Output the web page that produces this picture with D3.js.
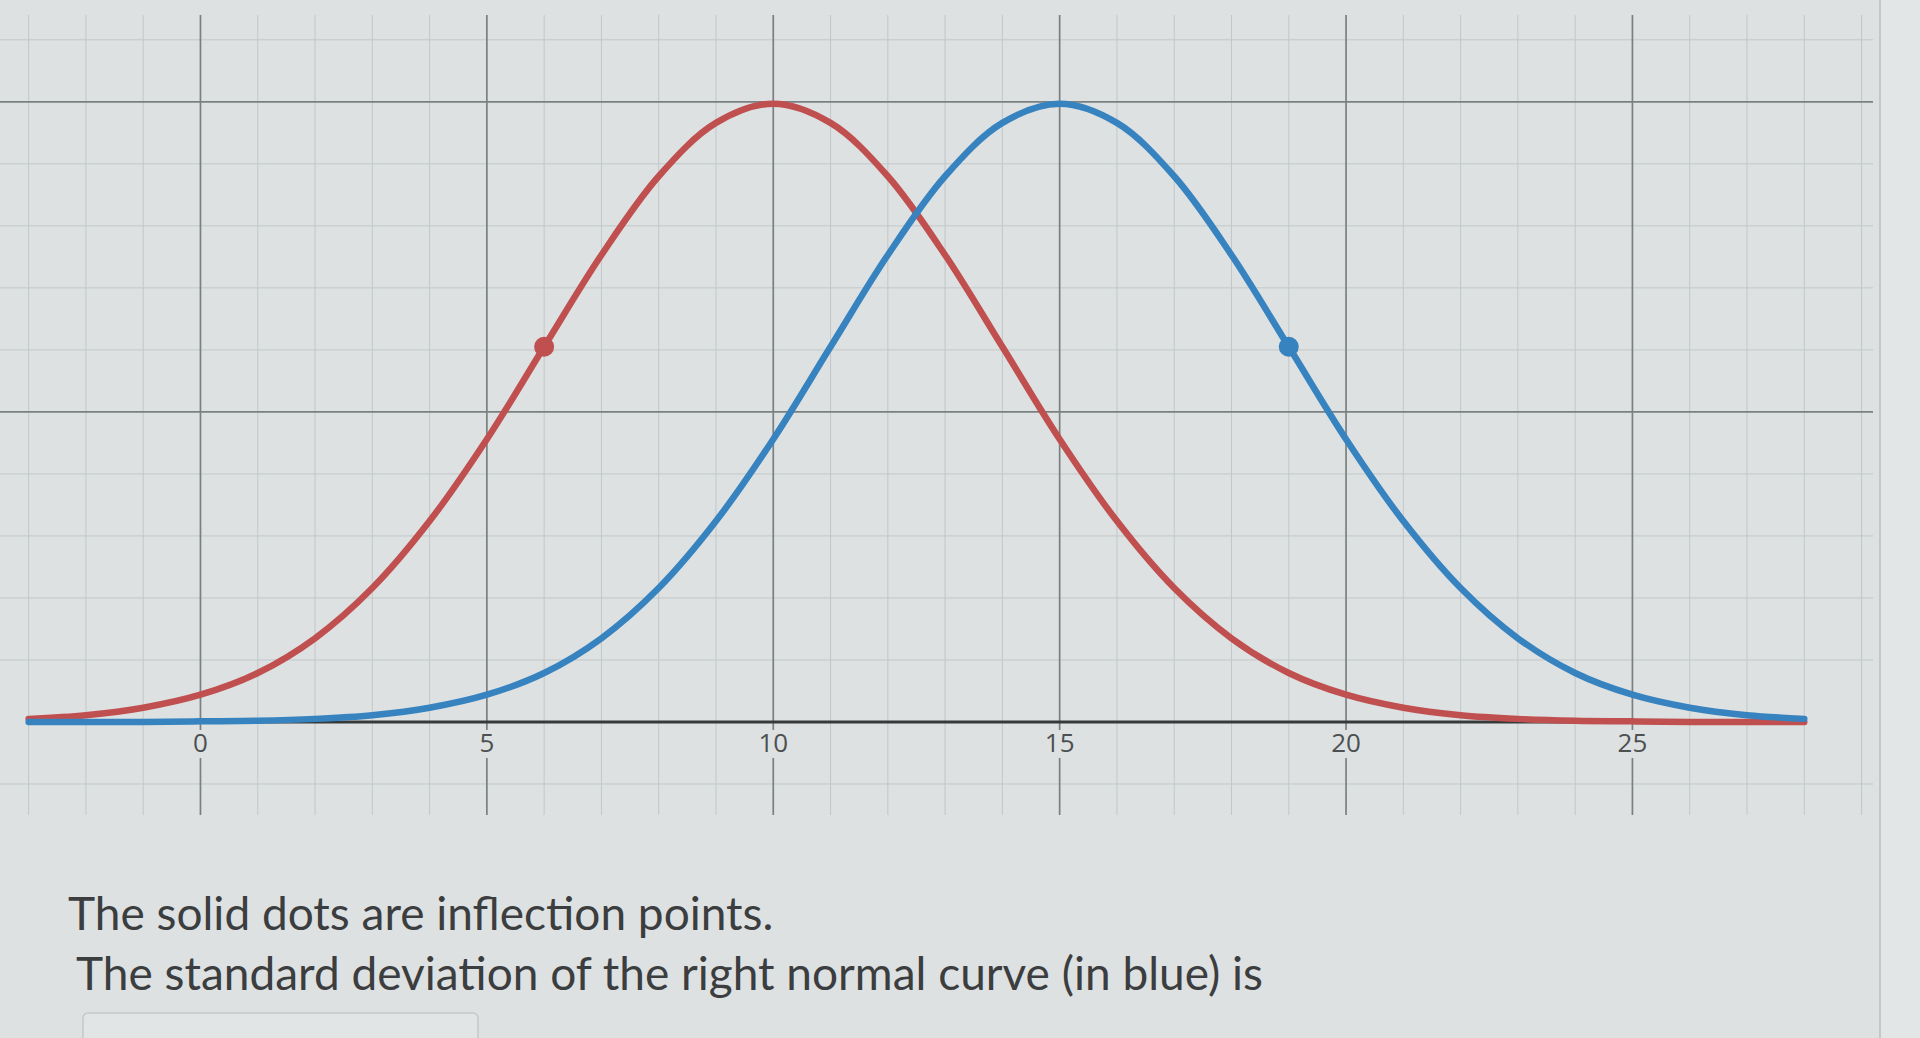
<!DOCTYPE html>
<html>
<head>
  <meta charset="utf-8">
  <title>Two normal curves</title>
  <script src="https://d3js.org/d3.v7.min.js"></script>
  <style>
    html, body { margin: 0; padding: 0; background: #dde1e2; overflow: hidden; }
    .minor { stroke: #c2c7c8; stroke-width: 1; }
    .major { stroke: #7a7f80; stroke-width: 1.7; }
    .axis-line { stroke: #363a3b; stroke-width: 2.8; }
    .tick-label { font: 26px "Open Sans", sans-serif; fill: #4c5051; text-anchor: middle; }
    .curve { fill: none; stroke-width: 6.5; stroke-linecap: round; }
    .note { font: 46px Lato, "Open Sans", sans-serif; fill: #3b3d3e; }
  </style>
</head>
<body>
  <script>
    // x positions read along the axis
    var xValues = [-3, -2, -1, 0, 1, 2, 3, 4, 5, 6, 7, 8, 9, 10, 11, 12, 13, 14,
                   15, 16, 17, 18, 19, 20, 21, 22, 23, 24, 25, 26, 27, 28];

    // left curve (red), heights
    var redValues = [0.05, 0.11, 0.23, 0.44, 0.79, 1.35, 2.16, 3.24, 4.56, 6.05, 7.53, 8.80, 9.66, 9.97,
                     9.66, 8.80, 7.53, 6.05, 4.56, 3.24, 2.16, 1.35, 0.79, 0.44, 0.23, 0.11, 0.05, 0.02,
                     0.01, 0, 0, 0];

    // right curve (blue)
    var blueValues = [0, 0, 0, 0.01, 0.02, 0.05, 0.11, 0.23, 0.44, 0.79, 1.35, 2.16, 3.24, 4.56,
                      6.05, 7.53, 8.80, 9.66, 9.97, 9.66, 8.80, 7.53, 6.05, 4.56, 3.24, 2.16, 1.35, 0.79,
                      0.44, 0.23, 0.11, 0.05];

    // solid dots (inflection points)
    var redDot = [6, 6.05];
    var blueDot = [19, 6.05];

    var xTicks = [0, 5, 10, 15, 20, 25];

    var width = 1920, height = 1038;

    var x = d3.scaleLinear().domain([-3.5, 29.2]).range([0, 1873]);
    var y = d3.scaleLinear().domain([-1.5, 11.4]).range([815, 15]);

    var svg = d3.select("body").append("svg")
        .attr("width", width)
        .attr("height", height);

    // right edge of the graph panel
    svg.append("rect")
        .attr("x", 1880).attr("y", 0)
        .attr("width", width - 1880).attr("height", height)
        .attr("fill", "#e3e6e7");
    svg.append("line")
        .attr("x1", 1880).attr("x2", 1880)
        .attr("y1", 0).attr("y2", height)
        .attr("stroke", "#b9bebf").attr("stroke-width", 1.5);

    var grid = svg.append("g");

    var xs = d3.range(-3, 30);
    var ys = d3.range(-1, 12);

    // minor grid
    grid.selectAll(".vminor").data(xs.filter(d => d % 5 !== 0))
      .enter().append("line")
        .attr("class", "minor")
        .attr("x1", d => x(d)).attr("x2", d => x(d))
        .attr("y1", y.range()[1]).attr("y2", y.range()[0]);
    grid.selectAll(".hminor").data(ys.filter(d => d % 5 !== 0))
      .enter().append("line")
        .attr("class", "minor")
        .attr("x1", x.range()[0]).attr("x2", x.range()[1])
        .attr("y1", d => y(d)).attr("y2", d => y(d));

    // major grid
    grid.selectAll(".vmajor").data(xTicks)
      .enter().append("line")
        .attr("class", "major")
        .attr("x1", d => x(d)).attr("x2", d => x(d))
        .attr("y1", y.range()[1]).attr("y2", y.range()[0]);
    grid.selectAll(".hmajor").data([5, 10])
      .enter().append("line")
        .attr("class", "major")
        .attr("x1", x.range()[0]).attr("x2", x.range()[1])
        .attr("y1", d => y(d)).attr("y2", d => y(d));

    // x axis
    grid.append("line")
        .attr("class", "axis-line")
        .attr("x1", x(-3)).attr("x2", x(28))
        .attr("y1", y(0)).attr("y2", y(0));

    // tick labels with a background that breaks the grid line
    var labels = grid.selectAll(".tick").data(xTicks)
      .enter().append("g")
        .attr("transform", d => "translate(" + x(d) + "," + (y(0) + 30) + ")");
    labels.append("rect")
        .attr("x", d => d < 10 ? -10 : -18)
        .attr("y", -22)
        .attr("width", d => d < 10 ? 20 : 36)
        .attr("height", 28)
        .attr("fill", "#dde1e2");
    labels.append("text")
        .attr("class", "tick-label")
        .text(d => d);

    var line = d3.line()
        .x(d => x(d[0]))
        .y(d => y(d[1]))
        .curve(d3.curveCatmullRom);

    var redData = xValues.map((d, i) => [d, redValues[i]]);
    var blueData = xValues.map((d, i) => [d, blueValues[i]]);

    svg.append("path")
        .datum(redData)
        .attr("class", "curve")
        .attr("stroke", "#c0504f")
        .attr("d", line);

    svg.append("path")
        .datum(blueData)
        .attr("class", "curve")
        .attr("stroke", "#3783c0")
        .attr("d", line);

    svg.append("circle")
        .attr("cx", x(redDot[0])).attr("cy", y(redDot[1]))
        .attr("r", 10).attr("fill", "#c0504f");
    svg.append("circle")
        .attr("cx", x(blueDot[0])).attr("cy", y(blueDot[1]))
        .attr("r", 10).attr("fill", "#3783c0");

    // text below the graph
    svg.append("text")
        .attr("class", "note")
        .attr("x", 68).attr("y", 930)
        .text("The solid dots are inflection points.");
    svg.append("text")
        .attr("class", "note")
        .attr("x", 76).attr("y", 990)
        .text("The standard deviation of the right normal curve (in blue) is");

    // answer box
    svg.append("rect")
        .attr("x", 83).attr("y", 1013)
        .attr("width", 395).attr("height", 48)
        .attr("rx", 5)
        .attr("fill", "#e2e5e6")
        .attr("stroke", "#c3c8c9")
        .attr("stroke-width", 1.5);
  </script>
</body>
</html>
